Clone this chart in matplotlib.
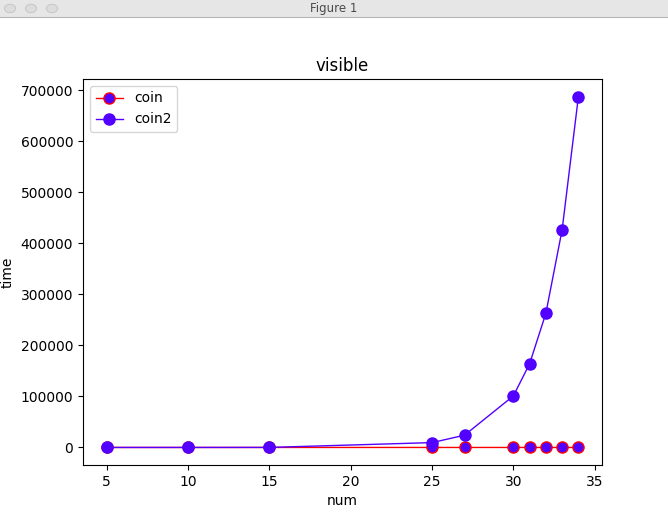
import matplotlib
matplotlib.use("Agg")
import matplotlib.pyplot as plt
from matplotlib.patches import Rectangle, Circle
from matplotlib.lines import Line2D

# values
num = [5, 10, 15, 25, 27, 30, 31, 32, 33, 34]
coin = [2, 3, 5, 8, 9, 10, 10, 11, 11, 12]
coin2 = [1, 7, 75, 9500, 24000, 101000, 164000, 263000, 427000, 688000]

BLUE = "#5200ff"
W, H = 668, 516

fig = plt.figure(figsize=(W / 100, H / 100), dpi=100)

# --- fake macOS window title bar ---
bar_h = 17 / H
fig.patches.append(Rectangle((0, 1 - bar_h), 1, bar_h, transform=fig.transFigure,
                             facecolor="#e6e6e6", edgecolor="none", zorder=0))
fig.lines.append(Line2D([0, 1], [1 - bar_h, 1 - bar_h], transform=fig.transFigure,
                        color="#b5b5b5", linewidth=0.8))
for cx in (10, 31, 52):
    fig.patches.append(Circle((cx / W, 1 - 8.5 / H), 5.5 / W, transform=fig.transFigure,
                              facecolor="#dcdcdc", edgecolor="#c2c2c2", linewidth=0.6))
fig.text(0.5, 1 - 8.5 / H, "Figure 1", ha="center", va="center",
         fontsize=8.5, color="#4a4a4a")

# --- the chart itself ---
ax = fig.add_axes([83 / W, (H - 465) / H, 519 / W, 386 / H])
ax.plot(num, coin, color="red", marker="o", markersize=8,
        markerfacecolor=BLUE, markeredgecolor="red", markeredgewidth=1,
        linewidth=1, label="coin")
ax.plot(num, coin2, color=BLUE, marker="o", markersize=8,
        markerfacecolor=BLUE, markeredgecolor=BLUE, markeredgewidth=1,
        linewidth=1, label="coin2")

ax.set_title("visible")
ax.set_xlabel("num")
ax.set_ylabel("time")
ax.legend(loc="upper left")

fig.savefig("out.png", dpi=100)
